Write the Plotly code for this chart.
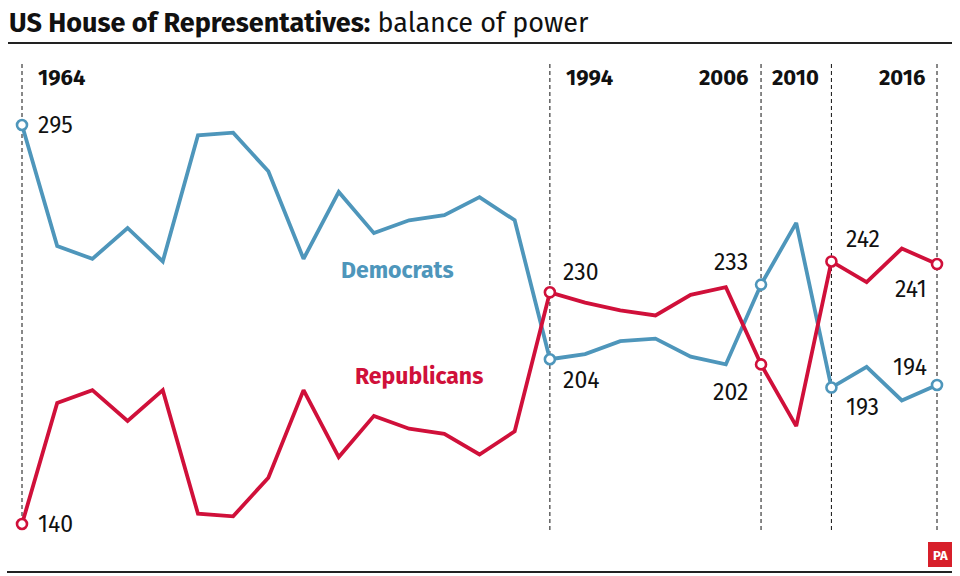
import plotly.graph_objects as go

years = list(range(1964, 2017, 2))
democrats = [295, 248, 243, 255, 242, 291, 292, 277, 243, 269, 253, 258, 260, 267, 258,
             204, 206, 211, 212, 205, 202, 233, 257, 193, 201, 188, 194]
republicans = [140, 187, 192, 180, 192, 144, 143, 158, 192, 166, 182, 177, 175, 167, 176,
               230, 226, 223, 221, 229, 232, 202, 178, 242, 234, 247, 241]
marked_years = [1964, 1994, 2006, 2010, 2016]

BLUE = "#4e96bb"
RED = "#d0103a"
FONT = "Fira Sans, Lato, sans-serif"

W, H = 960, 576
fig = go.Figure()

idx = [years.index(y) for y in marked_years]

fig.add_trace(go.Scatter(x=years, y=democrats, mode="lines", line=dict(color=BLUE, width=3.8),
                         hoverinfo="skip", showlegend=False))
fig.add_trace(go.Scatter(x=years, y=republicans, mode="lines", line=dict(color=RED, width=3.8),
                         hoverinfo="skip", showlegend=False))
fig.add_trace(go.Scatter(x=marked_years, y=[democrats[i] for i in idx], mode="markers",
                         marker=dict(size=10, color="white", line=dict(color=BLUE, width=2.6)),
                         hoverinfo="skip", showlegend=False))
fig.add_trace(go.Scatter(x=marked_years, y=[republicans[i] for i in idx], mode="markers",
                         marker=dict(size=10, color="white", line=dict(color=RED, width=2.6)),
                         hoverinfo="skip", showlegend=False))

shapes = []
for yr in marked_years:
    shapes.append(dict(type="line", xref="x", yref="paper", x0=yr, x1=yr,
                       y0=1 - 530 / H, y1=1 - 62 / H,
                       line=dict(color="#111111", width=1, dash="4px,3px"), layer="below"))
# title rule and bottom rule
shapes.append(dict(type="line", xref="paper", yref="paper", x0=8 / W, x1=952 / W,
                   y0=1 - 43 / H, y1=1 - 43 / H, line=dict(color="#222222", width=2)))
shapes.append(dict(type="line", xref="paper", yref="paper", x0=7 / W, x1=952 / W,
                   y0=1 - 572 / H, y1=1 - 572 / H, line=dict(color="#222222", width=2)))
# PA logo box
shapes.append(dict(type="rect", xref="paper", yref="paper", x0=928 / W, x1=952 / W,
                   y0=1 - 567 / H, y1=1 - 542 / H, fillcolor="#d71f2a", line=dict(width=0)))

ann = []
ann.append(dict(xref="paper", yref="paper", x=7 / W, y=1 - 23 / H, xanchor="left", yanchor="middle",
                text="<b>US House of Representatives:</b> balance of power", showarrow=False,
                font=dict(family=FONT, size=27, color="#111111")))
ann.append(dict(xref="paper", yref="paper", x=940 / W, y=1 - 555 / H, xanchor="center", yanchor="middle",
                text="<b>PA</b>", showarrow=False, font=dict(family=FONT, size=13, color="white")))

year_side = {1964: "right", 1994: "right", 2006: "left", 2010: "left", 2016: "left"}
for yr in marked_years:
    side = year_side[yr]
    ann.append(dict(xref="x", yref="paper", x=yr, y=1 - 77 / H,
                    xanchor="left" if side == "right" else "right", yanchor="middle",
                    xshift=14 if side == "right" else -10,
                    text=f"<b>{yr}</b>", showarrow=False,
                    font=dict(family=FONT, size=22, color="#111111")))

label_pos = {
    1964: ((14, 0, "left"), (14, 0, "left")),
    1994: ((11, -21, "left"), (11, 20, "left")),
    2006: ((-11, 23, "right"), (-11, -28, "right")),
    2010: ((13, -19, "left"), (13, 22, "left")),
    2016: ((-8, 18, "right"), (-8, -25, "right")),
}
for yr, i in zip(marked_years, idx):
    for val, pos in ((democrats[i], label_pos[yr][0]), (republicans[i], label_pos[yr][1])):
        xs, ys, xa = pos
        ann.append(dict(xref="x", yref="y", x=yr, y=val, xshift=xs, yshift=ys,
                        xanchor=xa, yanchor="middle", text=str(val), showarrow=False,
                        font=dict(family=FONT, size=23, color="#111111")))

ann.append(dict(xref="x", yref="y", x=1985.35, y=238.5, text="<b>Democrats</b>", showarrow=False,
                xanchor="center", yanchor="middle", font=dict(family=FONT, size=23, color=BLUE)))
ann.append(dict(xref="x", yref="y", x=1986.55, y=197.5, text="<b>Republicans</b>", showarrow=False,
                xanchor="center", yanchor="middle", font=dict(family=FONT, size=23, color=RED)))

px_per_year = (937 - 22) / 52
px_per_seat = (524 - 125) / 155
fig.update_layout(
    width=W, height=H, margin=dict(l=0, r=0, t=0, b=0),
    paper_bgcolor="white", plot_bgcolor="white",
    xaxis=dict(range=[1964 - 22 / px_per_year, 2016 + (W - 937) / px_per_year],
               visible=False, fixedrange=True),
    yaxis=dict(range=[140 - (H - 524) / px_per_seat, 140 + 524 / px_per_seat],
               visible=False, fixedrange=True),
    shapes=shapes, annotations=ann,
)

fig.write_html("out.html", config={"displayModeBar": False})
